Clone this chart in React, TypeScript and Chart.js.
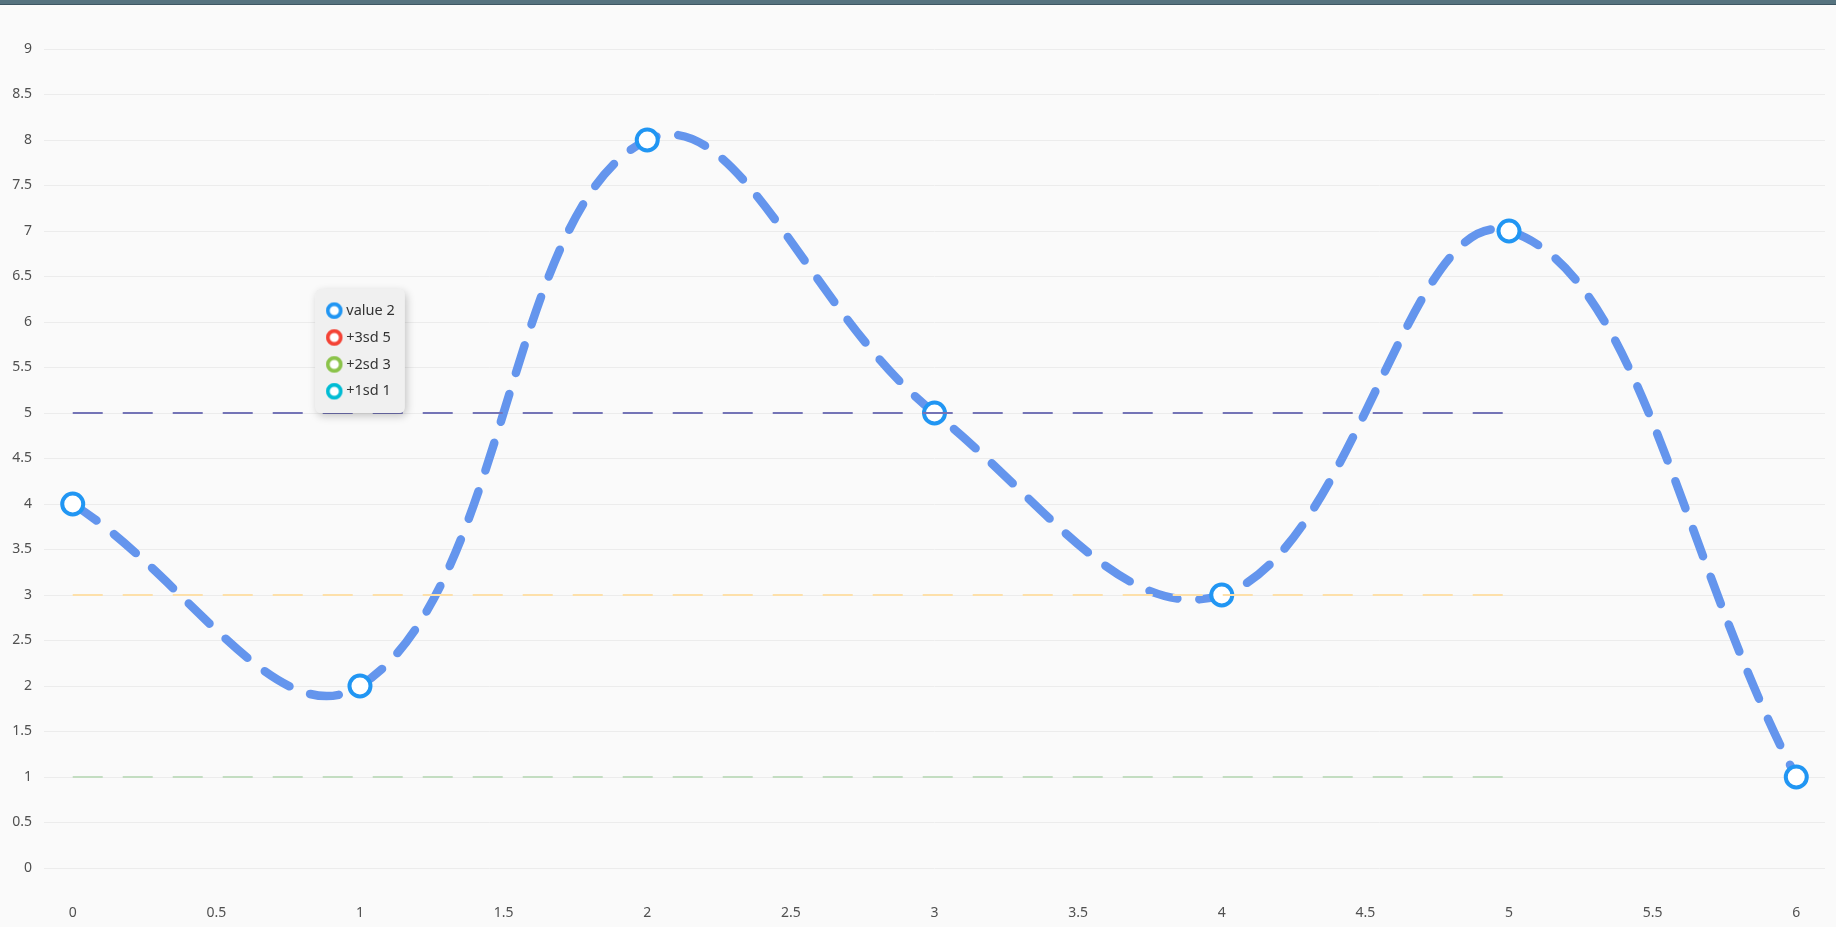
import { useEffect, useRef } from "react";
import { Chart, registerables, Tooltip } from "chart.js";

Chart.register(...registerables);

// data
const xValues = [0, 1, 2, 3, 4, 5, 6];
const mainValues = [4, 2, 8, 5, 3, 7, 1];
const sdX = [0, 1, 2, 3, 4, 5];
const plus3sd = [5, 5, 5, 5, 5, 5];
const plus2sd = [3, 3, 3, 3, 3, 3];
const plus1sd = [1, 1, 1, 1, 1, 1];
const seriesLabels = ["value", "+3sd", "+2sd", "+1sd"];
const lineColors = ["#6495ED", "#7474b6", "#fde0aa", "#c3ddc1"];
const tooltipColors = ["#2196F3", "#f44336", "#8bc34a", "#00bcd4"];
const xTickValues = [0, 0.5, 1, 1.5, 2, 2.5, 3, 3.5, 4, 4.5, 5, 5.5, 6];
const yTickValues = [0, 0.5, 1, 1.5, 2, 2.5, 3, 3.5, 4, 4.5, 5, 5.5, 6, 6.5, 7, 7.5, 8, 8.5, 9];
const hoverIndex = 1;

const FONT = "'Noto Sans', 'Open Sans', sans-serif";

function ringImage(color: string) {
  const c = document.createElement("canvas");
  c.width = 18;
  c.height = 18;
  const g = c.getContext("2d")!;
  g.beginPath();
  g.arc(9, 9, 6.3, 0, Math.PI * 2);
  g.fillStyle = "#ffffff";
  g.fill();
  g.lineWidth = 3.4;
  g.strokeStyle = color;
  g.stroke();
  return c;
}

(Tooltip.positioners as any).topCenter = function (items: any[]) {
  if (!items.length) return false;
  const x = items[0].element.x;
  const y = Math.min(...items.map((i) => i.element.y));
  return { x, y };
};

const tooltipShadow = {
  id: "tooltipShadow",
  beforeTooltipDraw(chart: any, args: any) {
    const t = args.tooltip;
    if (!t || !t.opacity) return;
    const ctx = chart.ctx;
    ctx.save();
    ctx.shadowColor = "rgba(0,0,0,0.22)";
    ctx.shadowBlur = 8;
    ctx.shadowOffsetX = 2;
    ctx.shadowOffsetY = 3;
    ctx.fillStyle = "#f0f0f0";
    ctx.beginPath();
    ctx.roundRect(t.x, t.y, t.width, t.height, 6);
    ctx.fill();
    ctx.restore();
  },
};

export default function App() {
  const canvasRef = useRef<HTMLCanvasElement>(null);
  const chartRef = useRef<Chart | null>(null);

  useEffect(() => {
    if (!canvasRef.current) return;
    if (chartRef.current) chartRef.current.destroy();
    const ctx = canvasRef.current.getContext("2d");
    if (!ctx) return;

    const rings = tooltipColors.map(ringImage);

    const sdSets = [plus3sd, plus2sd, plus1sd].map((vals, i) => ({
      label: seriesLabels[i + 1],
      data: sdX.map((x, j) => ({ x, y: vals[j] })),
      borderColor: lineColors[i + 1],
      borderWidth: 2,
      borderDash: [30, 20],
      pointRadius: 0,
      pointHoverRadius: 0,
      tension: 0,
      fill: false,
      order: 0,
    }));

    const config: any = {
      type: "line",
      data: {
        datasets: [
          {
            label: seriesLabels[0],
            data: xValues.map((x, i) => ({ x, y: mainValues[i] })),
            borderColor: lineColors[0],
            borderWidth: 8.5,
            borderDash: [29, 22],
            borderCapStyle: "round",
            tension: 0.4,
            fill: false,
            pointRadius: 10.5,
            pointHoverRadius: 10.5,
            pointBorderWidth: 4,
            pointHoverBorderWidth: 4,
            pointBackgroundColor: "#ffffff",
            pointBorderColor: tooltipColors[0],
            pointHoverBackgroundColor: "#ffffff",
            pointHoverBorderColor: tooltipColors[0],
            order: 1,
          },
          ...sdSets,
        ],
      },
      options: {
        animation: false,
        responsive: true,
        maintainAspectRatio: false,
        events: [],
        layout: { autoPadding: false, padding: { top: 44, right: 11, left: 0, bottom: 0 } },
        plugins: {
          legend: { display: false },
          tooltip: {
            enabled: true,
            position: "topCenter",
            xAlign: "center",
            yAlign: "bottom",
            caretSize: 0,
            caretPadding: 0,
            backgroundColor: "#f0f0f0",
            bodyColor: "#333333",
            bodyFont: { family: FONT, size: 14.5 },
            bodySpacing: 9.5,
            padding: { top: 13, bottom: 13, left: 9, right: 10 },
            cornerRadius: 6,
            displayColors: true,
            usePointStyle: true,
            boxWidth: 20,
            boxHeight: 16,
            callbacks: {
              title: () => "",
              label: (c: any) => `${c.dataset.label} ${c.parsed.y}`,
              labelPointStyle: (c: any) => ({ pointStyle: rings[c.datasetIndex], rotation: 0 }),
            },
          },
        },
        scales: {
          x: {
            type: "linear",
            min: -0.1,
            max: 6.1,
            afterBuildTicks: (s: any) => {
              s.ticks = xTickValues.map((v) => ({ value: v }));
            },
            afterFit: (s: any) => {
              s.height = 59;
              s.paddingLeft = 0;
              s.paddingRight = 0;
            },
            grid: { display: false, drawTicks: true, tickLength: 34 },
            border: { display: false },
            ticks: {
              padding: 3,
              color: "#505050",
              font: { family: FONT, size: 14 },
              maxRotation: 0,
              autoSkip: false,
              callback: (v: any) => String(v),
            },
          },
          y: {
            type: "linear",
            min: 0,
            max: 9,
            afterBuildTicks: (s: any) => {
              s.ticks = yTickValues.map((v) => ({ value: v }));
            },
            afterFit: (s: any) => {
              s.width = 44;
              s.paddingTop = 0;
              s.paddingBottom = 0;
            },
            grid: { color: "#ececec", lineWidth: 1, drawTicks: false },
            border: { display: false },
            ticks: {
              padding: 12,
              color: "#505050",
              font: { family: FONT, size: 14 },
              autoSkip: false,
              callback: (v: any) => String(v),
            },
          },
        },
      },
      plugins: [tooltipShadow],
    };

    const chart = new Chart(ctx, config);
    chartRef.current = chart;

    const active = [0, 1, 2, 3].map((d) => ({ datasetIndex: d, index: hoverIndex }));
    const el = chart.getDatasetMeta(0).data[hoverIndex] as any;
    chart.tooltip?.setActiveElements(active, { x: el.x, y: el.y });
    chart.update();

    return () => {
      chart.destroy();
      chartRef.current = null;
    };
  }, []);

  return (
    <div style={{ position: "fixed", inset: 0, background: "#fafafa", overflow: "hidden" }}>
      <div style={{ height: 4, background: "#56737f", borderBottom: "1px solid #3e5663" }} />
      <div style={{ position: "relative", width: "100%", height: 922 }}>
        <canvas ref={canvasRef} />
      </div>
    </div>
  );
}
